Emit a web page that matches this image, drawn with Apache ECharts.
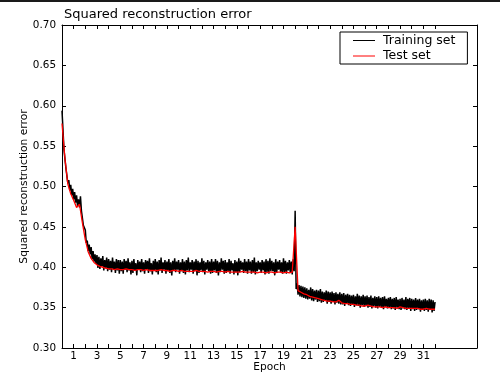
<!DOCTYPE html>
<html><head><meta charset="utf-8">
<script src="https://cdn.jsdelivr.net/npm/echarts@6/dist/echarts.min.js"></script>
<style>html,body{margin:0;padding:0;background:#fff}#c{width:500px;height:373px}</style>
</head><body><div id="c"></div>
<script>
const titleText = 'Squared reconstruction error';
const xName = 'Epoch';
const yName = 'Squared reconstruction error';
const seriesNames = ['Training set', 'Test set'];
const trainingPerEpoch = 12;
const testPerEpoch = 4;
const trainingError = [
  0.594, 0.571, 0.546, 0.544, 0.523, 0.522, 0.504, 0.508, 0.495, 0.502, 0.489, 0.497,
  0.484, 0.493, 0.480, 0.489, 0.476, 0.484, 0.474, 0.488, 0.470, 0.469, 0.452, 0.452,
  0.446, 0.430, 0.433, 0.420, 0.428, 0.416, 0.425, 0.410, 0.420, 0.407, 0.416, 0.404,
  0.415, 0.399, 0.413, 0.398, 0.411, 0.401, 0.414, 0.396, 0.409, 0.399, 0.412, 0.395,
  0.410, 0.397, 0.408, 0.394, 0.412, 0.398, 0.407, 0.393, 0.410, 0.396, 0.409, 0.392,
  0.409, 0.395, 0.407, 0.392, 0.410, 0.397, 0.408, 0.394, 0.411, 0.396, 0.406, 0.391,
  0.408, 0.393, 0.410, 0.396, 0.405, 0.390, 0.409, 0.397, 0.407, 0.394, 0.410, 0.395,
  0.406, 0.392, 0.409, 0.398, 0.408, 0.393, 0.411, 0.395, 0.405, 0.391, 0.408, 0.396,
  0.410, 0.394, 0.407, 0.391, 0.409, 0.396, 0.412, 0.393, 0.406, 0.397, 0.409, 0.392,
  0.407, 0.395, 0.410, 0.393, 0.406, 0.390, 0.408, 0.396, 0.411, 0.394, 0.407, 0.397,
  0.409, 0.392, 0.406, 0.395, 0.410, 0.393, 0.407, 0.391, 0.409, 0.396, 0.412, 0.394,
  0.406, 0.397, 0.409, 0.392, 0.407, 0.395, 0.410, 0.390, 0.408, 0.393, 0.406, 0.396,
  0.411, 0.394, 0.408, 0.391, 0.406, 0.397, 0.409, 0.395, 0.407, 0.392, 0.410, 0.393,
  0.407, 0.396, 0.410, 0.393, 0.408, 0.390, 0.406, 0.394, 0.411, 0.397, 0.408, 0.392,
  0.409, 0.393, 0.406, 0.395, 0.410, 0.392, 0.408, 0.396, 0.405, 0.391, 0.409, 0.394,
  0.407, 0.390, 0.411, 0.394, 0.408, 0.397, 0.406, 0.393, 0.410, 0.395, 0.407, 0.392,
  0.410, 0.396, 0.407, 0.392, 0.409, 0.394, 0.412, 0.391, 0.406, 0.395, 0.408, 0.397,
  0.406, 0.393, 0.409, 0.396, 0.407, 0.391, 0.410, 0.394, 0.408, 0.392, 0.411, 0.395,
  0.408, 0.395, 0.406, 0.390, 0.410, 0.393, 0.407, 0.397, 0.409, 0.394, 0.406, 0.392,
  0.411, 0.394, 0.408, 0.392, 0.406, 0.396, 0.409, 0.393, 0.407, 0.391, 0.410, 0.395,
  0.470, 0.373, 0.380, 0.366, 0.378, 0.364, 0.377, 0.363, 0.376, 0.362, 0.375, 0.361,
  0.374, 0.360, 0.372, 0.361, 0.375, 0.359, 0.373, 0.358, 0.371, 0.360, 0.372, 0.357,
  0.371, 0.358, 0.373, 0.356, 0.370, 0.357, 0.369, 0.359, 0.371, 0.355, 0.370, 0.357,
  0.369, 0.355, 0.370, 0.357, 0.368, 0.354, 0.369, 0.356, 0.367, 0.355, 0.369, 0.354,
  0.367, 0.354, 0.368, 0.352, 0.366, 0.355, 0.367, 0.353, 0.366, 0.352, 0.365, 0.354,
  0.366, 0.351, 0.364, 0.353, 0.367, 0.352, 0.365, 0.350, 0.364, 0.353, 0.366, 0.351,
  0.364, 0.352, 0.365, 0.350, 0.363, 0.351, 0.365, 0.349, 0.362, 0.352, 0.364, 0.350,
  0.363, 0.349, 0.364, 0.351, 0.362, 0.350, 0.363, 0.348, 0.364, 0.351, 0.361, 0.349,
  0.362, 0.350, 0.363, 0.348, 0.361, 0.349, 0.362, 0.347, 0.363, 0.350, 0.360, 0.348,
  0.361, 0.347, 0.362, 0.349, 0.360, 0.348, 0.363, 0.347, 0.361, 0.349, 0.362, 0.346,
  0.361, 0.348, 0.360, 0.346, 0.362, 0.347, 0.360, 0.348, 0.361, 0.345, 0.359, 0.347,
  0.360, 0.346, 0.361, 0.347, 0.359, 0.345, 0.361, 0.347, 0.360, 0.344, 0.359, 0.346,
  0.357
];
const testError = [
  0.578, 0.535, 0.503, 0.491,
  0.483, 0.474, 0.478, 0.455,
  0.434, 0.419, 0.411, 0.406,
  0.403, 0.401, 0.400, 0.399,
  0.398, 0.398, 0.397, 0.398,
  0.397, 0.397, 0.398, 0.397,
  0.397, 0.396, 0.397, 0.397,
  0.396, 0.397, 0.396, 0.396,
  0.396, 0.396, 0.397, 0.396,
  0.396, 0.395, 0.396, 0.396,
  0.395, 0.396, 0.395, 0.395,
  0.395, 0.395, 0.396, 0.395,
  0.395, 0.395, 0.394, 0.395,
  0.395, 0.394, 0.395, 0.395,
  0.394, 0.395, 0.394, 0.394,
  0.394, 0.394, 0.395, 0.394,
  0.394, 0.394, 0.394, 0.393,
  0.394, 0.394, 0.393, 0.394,
  0.394, 0.393, 0.394, 0.394,
  0.393, 0.394, 0.393, 0.394,
  0.450, 0.371, 0.369, 0.367,
  0.366, 0.364, 0.363, 0.362,
  0.361, 0.360, 0.359, 0.358,
  0.358, 0.357, 0.357, 0.359,
  0.356, 0.355, 0.355, 0.354,
  0.354, 0.353, 0.353, 0.352,
  0.352, 0.353, 0.352, 0.351,
  0.351, 0.351, 0.350, 0.351,
  0.350, 0.350, 0.350, 0.349,
  0.351, 0.350, 0.349, 0.349,
  0.349, 0.349, 0.349, 0.348,
  0.348, 0.349, 0.348, 0.348,
  0.348
];
const xTickValues = [1,2,3,4,5,6,7,8,9,10,11,12,13,14,15,16,17,18,19,20,21,22,23,24,25,26,27,28,29,30,31,32];
const xLabelValues = [1,3,5,7,9,11,13,15,17,19,21,23,25,27,29,31];
const xMin = 0, xMax = 35.6;
const yMin = 0.30, yMax = 0.70, yStep = 0.05;

const font = 'DejaVu Sans';
const trainData = trainingError.map((v, i) => [i / trainingPerEpoch, v]);
const testData = testError.map((v, i) => [i / testPerEpoch, v]);

const chart = echarts.init(document.getElementById('c'), null, {renderer: 'canvas'});
const tickStyle = {show: true, inside: true, length: 4, lineStyle: {color: '#000', width: 1}};
const axisLine = {show: true, onZero: false, lineStyle: {color: '#000', width: 1}};
chart.setOption({
  animation: false,
  backgroundColor: '#fff',
  title: {
    text: titleText, left: 59, top: 3,
    textStyle: {fontFamily: font, fontSize: 13, fontWeight: 'normal', color: '#000'}
  },
  legend: {
    data: seriesNames,
    orient: 'vertical',
    left: 340, top: 32,
    itemWidth: 22, itemHeight: 14, itemGap: 1.5,
    padding: [1.5, 12, 1, 12.5],
    borderColor: '#000', borderWidth: 1, borderRadius: 0,
    backgroundColor: '#fff',
    itemStyle: {opacity: 0},
    lineStyle: {width: 1},
    textStyle: {fontFamily: font, fontSize: 12.5, color: '#000', padding: [0, 0, 0, 3], lineHeight: 14}
  },
  grid: {left: 62, top: 25, width: 415, height: 323, containLabel: false, outerBoundsMode: 'none'},
  xAxis: [{
    type: 'value', min: xMin, max: xMax, position: 'bottom',
    name: xName, nameLocation: 'middle', nameGap: 14, nameMoveOverlap: false,
    nameTextStyle: {fontFamily: font, fontSize: 10.6, color: '#000'},
    axisLine: axisLine,
    axisTick: Object.assign({}, tickStyle, {customValues: xTickValues}),
    axisLabel: {customValues: xLabelValues, margin: 3, fontFamily: font, fontSize: 10.4, color: '#000'},
    splitLine: {show: false}
  }, {
    type: 'value', min: xMin, max: xMax, position: 'top',
    axisLine: axisLine,
    axisTick: Object.assign({}, tickStyle, {customValues: xTickValues}),
    axisLabel: {show: false},
    splitLine: {show: false}
  }],
  yAxis: [{
    type: 'value', min: yMin, max: yMax, interval: yStep, position: 'left',
    name: yName, nameLocation: 'middle', nameGap: 32, nameMoveOverlap: false,
    nameTextStyle: {fontFamily: font, fontSize: 10.7, color: '#000'},
    axisLine: axisLine, axisTick: tickStyle,
    axisLabel: {margin: 6, fontFamily: font, fontSize: 10.4, color: '#000', formatter: v => v.toFixed(2)},
    splitLine: {show: false}
  }, {
    type: 'value', min: yMin, max: yMax, interval: yStep, position: 'right',
    axisLine: axisLine, axisTick: tickStyle,
    axisLabel: {show: false},
    splitLine: {show: false}
  }],
  series: [{
    name: seriesNames[0], type: 'line', data: trainData,
    symbol: 'none', lineStyle: {color: '#000', width: 1.5}, itemStyle: {color: '#000'}
  }, {
    name: seriesNames[1], type: 'line', data: testData,
    symbol: 'none', lineStyle: {color: '#ff0000', width: 1.3}, itemStyle: {color: '#ff0000'}
  }],
  graphic: [{
    type: 'rect', left: 0, top: 0, shape: {width: 500, height: 2}, style: {fill: '#1a1a1a'}
  }]
});
</script></body></html>
